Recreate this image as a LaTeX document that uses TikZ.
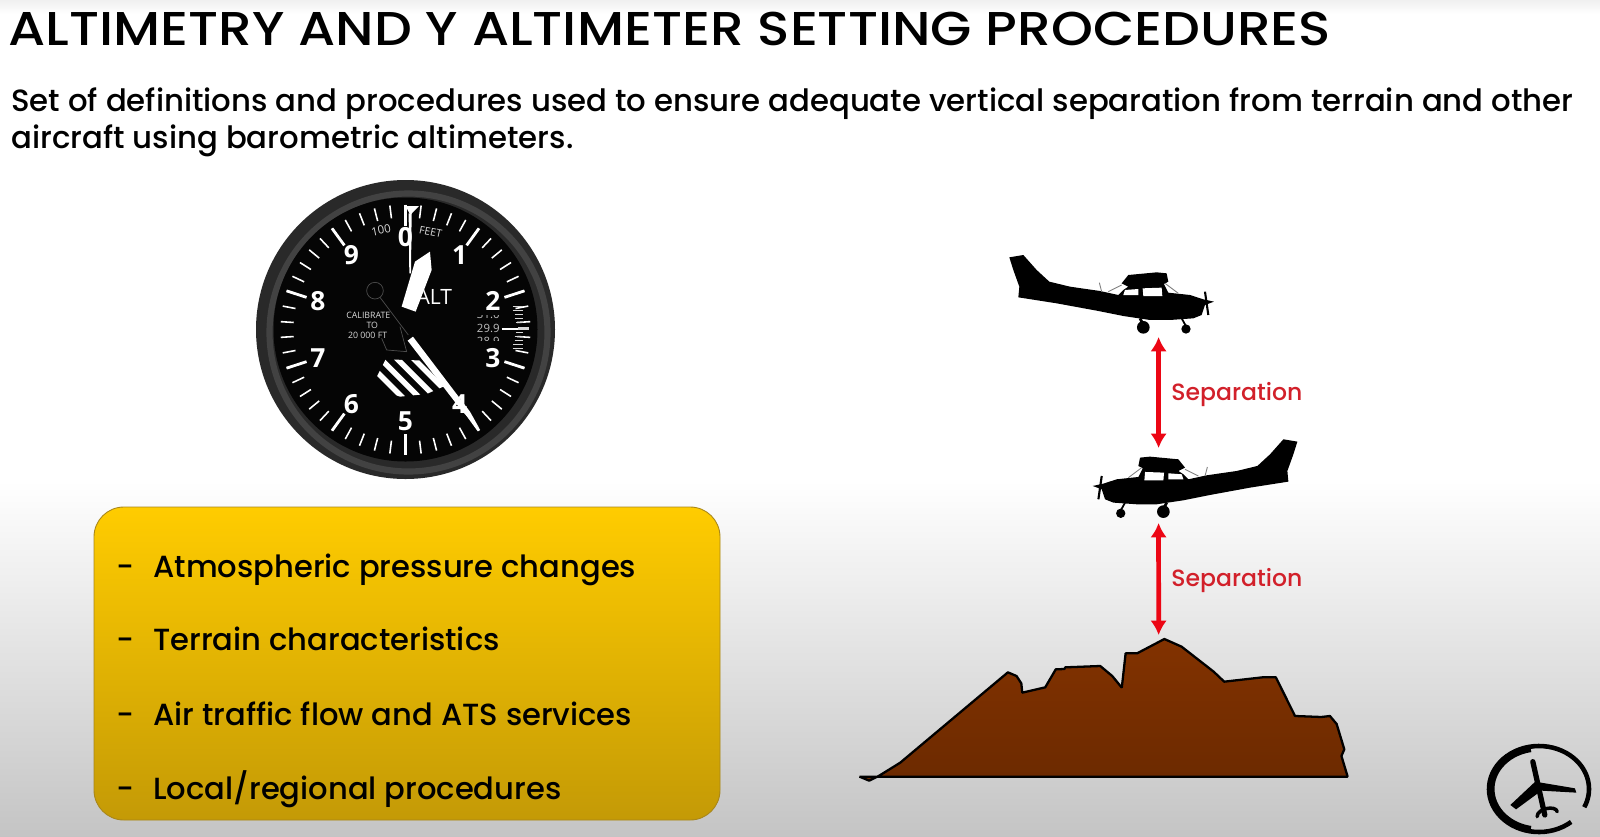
\documentclass[tikz,border=0pt]{standalone}
\usepackage{fontspec}
\setmainfont{Poppins}
\newfontfamily\medfont{Poppins Medium}
\newfontfamily\titlefont[FakeStretch=1.125]{Poppins Medium}
\newfontfamily\dialfont{Open Sans}
\usetikzlibrary{arrows.meta}
\definecolor{sepred}{HTML}{EC0614}
\definecolor{seplabel}{HTML}{D2202A}
\definecolor{rocktop}{HTML}{823200}
\definecolor{rocklow}{HTML}{6C2A00}
\definecolor{boxtop}{HTML}{FFCC00}
\definecolor{boxlow}{HTML}{C49A06}
\definecolor{boxedge}{HTML}{A8861A}
\tikzset{
  every node/.append style={inner sep=0pt},
  titletext/.style={anchor=base west,font=\titlefont\fontsize{27}{27}\selectfont},
  bodytext/.style={anchor=base west,font=\medfont\fontsize{17.5}{17.5}\selectfont},
  listtext/.style={anchor=base west,font=\medfont\fontsize{17.4}{17.4}\selectfont},
  seplabeltext/.style={anchor=base west,text=seplabel,font=\medfont\fontsize{13.4}{13.4}\selectfont},
  separrow/.style={draw=sepred,line width=2.7pt,{Latex[length=8.2pt,width=9.4pt]}-{Latex[length=8.2pt,width=9.4pt]}},
  dialdigit/.style={text=white,font=\dialfont\bfseries\fontsize{15}{15}\selectfont},
  dialsmall/.style={text=white!85!black,font=\dialfont\fontsize{5}{5}\selectfont},
  baroscale/.style={text=white!75!black,font=\dialfont\fontsize{6.5}{6.5}\selectfont},
}
% one aeroplane, in the pixels of a 3x crop
\newcommand{\planeshape}{
  \fill [black] (58,52) -- (100,45) -- (140,90) -- (178,125) -- (240,140) -- (330,153) -- (385,165) -- (400,150) -- (415,140) -- (395,130) -- (415,105) -- (500,97) -- (530,100) -- (535,125) -- (522,132) -- (535,158) -- (600,165) -- (640,178) -- (672,185) -- (645,195) -- (635,225) -- (610,235) -- (540,240) -- (480,240) -- (400,228) -- (320,212) -- (200,190) -- (85,172) -- (88,140) -- (70,90) -- cycle;
  \fill [white] (405,150) -- (445,147) -- (445,165) -- (400,165) -- cycle;
  \fill [white] (458,145) -- (515,143) -- (517,168) -- (460,168) -- cycle;
  \fill [black] (460,262) circle (19);
  \fill [black] (588,267) circle (14);
  \draw [black,line width=1.6pt] (450,235) -- (458,250);
  \draw [black,line width=1pt] (575,235) -- (586,255);
  \draw [black,line width=1.2pt] (645,155) -- (655,225);
  \draw [gray,line width=0.5pt] (355,155) -- (395,135);
  \draw [gray,line width=0.5pt] (525,130) -- (565,160);
  \draw [gray,line width=0.5pt] (328,128) -- (335,155);
}
\begin{document}
\begin{tikzpicture}[x=0.02cm,y=0.02cm]
\useasboundingbox (0,0) rectangle (1600,-836);
% background
\fill [white] (0,0) rectangle (1600,-836);
\shade [top color=white,bottom color=black!23] (0,-480) rectangle (1600,-836);
\shade [top color=black!6,bottom color=white] (0,0) rectangle (1600,-14);
% texts on top
\node [titletext] (title) at (8,-45) {ALTIMETRY AND Y ALTIMETER SETTING PROCEDURES};
\node [bodytext] (lineone) at (11,-111) {Set of definitions and procedures used to ensure adequate vertical separation from terrain and other};
\node [bodytext] (linetwo) at (11,-148) {aircraft using barometric altimeters.};
% list box
\shade [top color=boxtop,bottom color=boxlow,draw=boxedge,rounded corners=17pt,line width=0.5pt] (94,-507) rectangle (720,-820);
\node [listtext] (dashone) at (116,-577) {-};
\node [listtext] (itemone) at (153,-577) {Atmospheric pressure changes};
\node [listtext] (dashtwo) at (116,-650) {-};
\node [listtext] (itemtwo) at (153,-650) {Terrain characteristics};
\node [listtext] (dashthree) at (116,-725) {-};
\node [listtext] (itemthree) at (153,-725) {Air traffic flow and ATS services};
\node [listtext] (dashfour) at (116,-799) {-};
\node [listtext] (itemfour) at (153,-799) {Local/regional procedures};
% altimeter dial
\begin{scope}[shift={(405.5,-329.5)}]
\fill [black!84] (0,0) circle (149.5);
\draw [black!74,line width=3.5pt] (3,-3) circle (139);
\fill [black!98] (0,0) circle (132);
\foreach \i in {0,...,49}{
  \pgfmathsetmacro\ang{90-7.2*\i}
  \draw [white,line width=0.9pt] (\ang:125) -- (\ang:112);
}
\foreach \n in {0,...,9}{
  \pgfmathsetmacro\ang{90-36*\n}
  \draw [white,line width=1.6pt] (\ang:125) -- (\ang:104);
  \node [dialdigit] (digit\n) at (\ang:92) {\n};
}
\end{scope}
\begin{scope}[shift={(240,-170)},scale=0.3333]
\draw [black!70,line width=0.4pt] (405,-362) circle (25);
\draw [black!70,line width=0.4pt] (420,-382) -- (505,-495) (425,-505) -- (440,-540) -- (500,-545) -- (480,-470);
\node [dialsmall] (calone) at (385,-435) {CALIBRATE};
\node [dialsmall] (caltwo) at (397,-465) {TO};
\node [dialsmall] (calthree) at (383,-495) {20 000 FT};
\node [dialsmall,font=\dialfont\fontsize{6.5}{6.5}\selectfont,rotate=12] (hundred) at (423,-180) {100};
\node [dialsmall,font=\dialfont\fontsize{6}{6}\selectfont,rotate=-12] (feet) at (572,-186) {FEET};
\node [text=white,font=\dialfont\fontsize{12}{12}\selectfont] (alt) at (583,-381) {ALT};
% stripes
\begin{scope}
\clip (402,-637) -- (437,-568) -- (560,-572) -- (610,-650) -- (560,-672) -- (480,-680) -- (430,-662) -- cycle;
\foreach \s in {0,...,4}{
  \draw [white,line width=3.1pt] (345+50*\s,-540) -- (505+50*\s,-700);
}
\end{scope}
% baro window
\begin{scope}
\clip (700,-436) rectangle (790,-512);
\node [baroscale] (baroup) at (745,-434) {31.0};
\node [baroscale] (barolow) at (745,-515) {28.9};
\end{scope}
\node [baroscale] (baro) at (745,-476) {29.9};
\foreach \y/\w in {410/30,422/30,434/24,446/24,458/20,488/20,500/24,512/24,524/28,536/30}{
  \draw [white!85!black,line width=0.6pt] (848-\w,-\y) -- (848,-\y);
}
\draw [white,line width=1.2pt] (785,-476) -- (840,-476);
\fill [white!85!black] (835,-472) rectangle (868,-481);
% hands
\fill [white] (485,-410) -- (527,-425) -- (575,-300) -- (570,-245) -- (525,-275) -- cycle;
\fill [white] (506,-130) -- (515,-130) -- (513,-310) -- (508,-310) -- cycle;
\fill [white] (497,-108) -- (537,-108) -- (511,-135) -- cycle;
\fill [white] (503,-512) -- (519,-500) -- (690,-725) -- (718,-775) -- (665,-722) -- cycle;
\end{scope}
% aeroplanes
\begin{scope}[shift={(990,-240)},xscale=0.3333,yscale=-0.3333]
\planeshape
\end{scope}
\begin{scope}[shift={(1316.7,-424.3)},xscale=-0.3333,yscale=-0.3333]
\planeshape
\end{scope}
% mountain
\begin{scope}[shift={(850,-620)},xscale=0.4785,yscale=-0.3333]
\coordinate (peak) at (645,45);
\shade [top color=rocktop,bottom color=rocklow,draw=black,line width=1.3pt,line join=bevel] (20,470) -- (40,482) -- (60,468) -- (105,428) -- (330,157) -- (348,168) -- (358,190) -- (360,218) -- (408,202) -- (430,148) -- (448,147) -- (450,142) -- (523,138) -- (548,168) -- (568,203) -- (576,100) -- (600,100) -- (657,57) -- (693,80) -- (760,155) -- (782,185) -- (862,172) -- (890,172) -- (930,288) -- (985,291) -- (1003,288) -- (1017,312) -- (1033,388) -- (1027,408) -- (1040,470) -- cycle;
\end{scope}
% separation arrows
\coordinate (planeone) at (1158.6,-337);
\coordinate (planetwo) at (1158.6,-448);
\coordinate (planetwolow) at (1158.6,-523);
\draw [separrow] (planeone) -- (planetwo);
\draw [separrow] (planetwolow) -- (peak);
\node [seplabeltext] (sepone) at (1171,-400) {Separation};
\node [seplabeltext] (septwo) at (1171,-586) {Separation};
% logo
\draw [black,line width=2.6pt] (1539,-789) ++(-50:50 and 43) arc [start angle=-50,delta angle=-335,x radius=50,y radius=43];
\draw [black,line width=4pt] (1539,-789) ++(100:48 and 41) arc [start angle=100,delta angle=160,x radius=48,y radius=41];
\begin{scope}[shift={(850,-620)},xscale=0.4785,yscale=-0.3333]
\draw [black,line width=3pt,line cap=round] (1427,425) -- (1452,585);
\fill [black] (1432,485) -- (1515,505) -- (1518,518) -- (1445,512) -- (1392,568) -- (1380,555) -- cycle;
\draw [black,line width=2pt,line cap=round] (1436,590) .. controls (1436,565) and (1475,555) .. (1478,575);
\end{scope}
\end{tikzpicture}
\end{document}
